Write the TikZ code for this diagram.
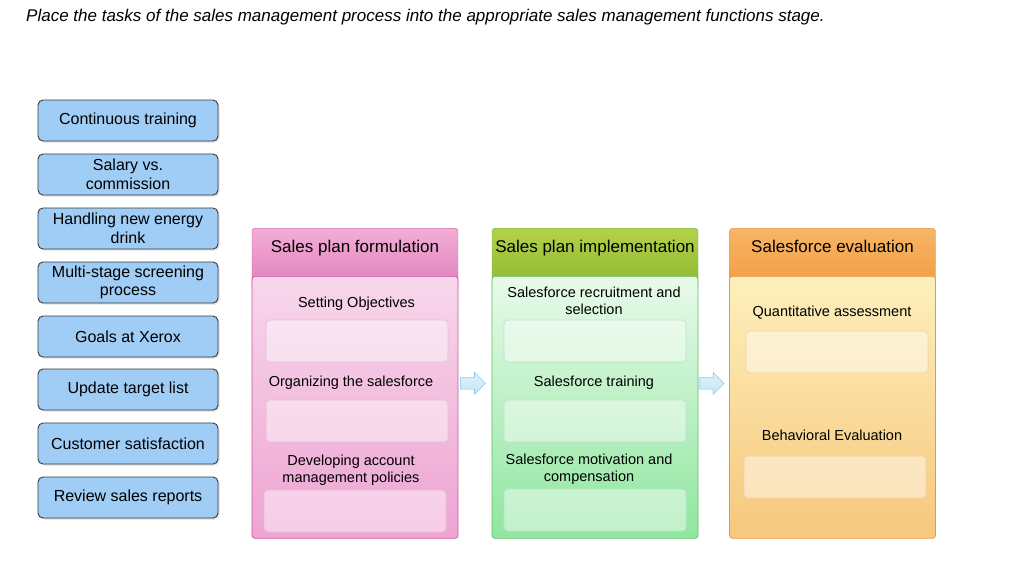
\documentclass[tikz,border=0pt]{standalone}
\usepackage{fontspec}
\setmainfont{Liberation Sans}
\usepackage{tikz}
\usetikzlibrary{calc}
\usetikzlibrary{shapes}
\usetikzlibrary{shapes.arrows}
\usetikzlibrary{shadows}
\usetikzlibrary{positioning}

\definecolor{taskblue}{HTML}{A0CDF5}
\definecolor{taskline}{HTML}{3A3A3A}
\definecolor{pinktop}{HTML}{F2AED7}
\definecolor{pinkbot}{HTML}{E07DBA}
\definecolor{pinkline}{HTML}{C9559C}
\definecolor{pinklite}{HTML}{F7D7EB}
\definecolor{pinkdeep}{HTML}{EEA4D2}
\definecolor{pinkslot}{HTML}{E9BCD8}
\definecolor{greentop}{HTML}{B3D24A}
\definecolor{greenbot}{HTML}{8DB52F}
\definecolor{greenline}{HTML}{62BE66}
\definecolor{greenlite}{HTML}{E8FAEA}
\definecolor{greendeep}{HTML}{8FE69F}
\definecolor{greenslot}{HTML}{B9E6C0}
\definecolor{orangetop}{HTML}{F7B565}
\definecolor{orangebot}{HTML}{F29B42}
\definecolor{orangeline}{HTML}{E39A48}
\definecolor{orangelite}{HTML}{FDF0BB}
\definecolor{orangedeep}{HTML}{F7C77D}
\definecolor{orangeslot}{HTML}{EFD3A6}
\definecolor{flowfill}{HTML}{C6E7F8}
\definecolor{flowline}{HTML}{8DC6E6}

\tikzstyle{task} = [rectangle, rounded corners=5pt, draw=taskline, line width=0.9pt, fill=taskblue, minimum width=180pt, minimum height=41pt, inner sep=2pt, align=center, font=\fontsize{16}{18.5}\selectfont, drop shadow={shadow xshift=1.5pt, shadow yshift=-1.5pt, opacity=0.25}]
\tikzstyle{head} = [rectangle, rounded corners=3pt, anchor=north, minimum width=206pt, inner xsep=0pt, inner ysep=8pt, text height=16pt, text depth=30pt, font=\fontsize{17}{20}\selectfont]
\tikzstyle{body} = [rectangle, rounded corners=3pt, anchor=north, minimum width=206pt, minimum height=262pt, line width=0.7pt]
\tikzstyle{slot} = [rectangle, rounded corners=4pt, minimum width=182pt, minimum height=42pt, fill=white, fill opacity=0.45, line width=0.6pt]
\tikzstyle{stage} = [align=center, inner sep=0pt, yshift=-1.5pt, font=\fontsize{14.5}{17}\selectfont]
\tikzstyle{flow} = [single arrow, draw=flowline, line width=0.6pt, top color=white!40!flowfill, bottom color=flowfill, minimum height=25pt, minimum width=21pt, single arrow head extend=5pt, inner xsep=0pt, inner ysep=5.5pt, xshift=-5pt]

\begin{document}
\begin{tikzpicture}[x=1pt, y=-1pt]
\useasboundingbox (0,0) rectangle (1024,566);

\node [anchor=west, inner sep=0pt, font=\itshape\fontsize{17}{20}\selectfont] (Q) at (26,17) {Place the tasks of the sales management process into the appropriate sales management functions stage.};

% tasks to place
\node [task] (T1) at (128,120.5) {Continuous training};
\node [task] (T2) at (128,174.5) {Salary vs.\\commission};
\node [task] (T3) at (128,228.5) {Handling new energy\\drink};
\node [task] (T4) at (128,282.5) {Multi-stage screening\\process};
\node [task] (T5) at (128,336.5) {Goals at Xerox};
\node [task] (T6) at (128,389.5) {Update target list};
\node [task] (T7) at (128,443.5) {Customer satisfaction};
\node [task] (T8) at (128,497.5) {Review sales reports};

% sales plan formulation
\node [head, draw=pinkline, top color=pinktop, bottom color=pinkbot] (Fhead) at (355,228) {Sales plan formulation};
\node [body, draw=pinkline, top color=pinklite, bottom color=pinkdeep] (Fbody) at (355,276) {};
\node [stage] (F1) at (356.5,302) {Setting Objectives};
\node [slot, draw=pinkslot] (S1) at (357,341) {};
\node [stage] (F2) at (351,381) {Organizing the salesforce};
\node [slot, draw=pinkslot] (S2) at (357,421) {};
\node [stage] (F3) at (351,468.5) {Developing account\\management policies};
\node [slot, draw=pinkslot] (S3) at (355,511) {};

% sales plan implementation
\node [head, draw=greenline, top color=greentop, bottom color=greenbot] (Ghead) at (595,228) {Sales plan implementation};
\node [body, draw=greenline, top color=greenlite, bottom color=greendeep] (Gbody) at (595,276) {};
\node [stage] (G1) at (594,299.5) {Salesforce recruitment and\\selection};
\node [slot, draw=greenslot] (S4) at (595,341) {};
\node [stage] (G2) at (594,381) {Salesforce training};
\node [slot, draw=greenslot] (S5) at (595,421) {};
\node [stage] (G3) at (589,467.5) {Salesforce motivation and\\compensation};
\node [slot, draw=greenslot] (S6) at (595,510) {};

% salesforce evaluation
\node [head, draw=orangeline, top color=orangetop, bottom color=orangebot] (Ehead) at (832.5,228) {Salesforce evaluation};
\node [body, draw=orangeline, top color=orangelite, bottom color=orangedeep] (Ebody) at (832.5,276) {};
\node [stage] (E1) at (832,311) {Quantitative assessment};
\node [slot, draw=orangeslot] (S7) at (837,352) {};
\node [stage] (E2) at (832,434) {Behavioral Evaluation};
\node [slot, draw=orangeslot] (S8) at (835,477) {};

% stage arrows
\node [flow] (A1) at ($(Fhead.north east)!0.5!(Gbody.south west)$) {};
\node [flow] (A2) at ($(Ghead.north east)!0.5!(Ebody.south west)$) {};
\end{tikzpicture}
\end{document}
